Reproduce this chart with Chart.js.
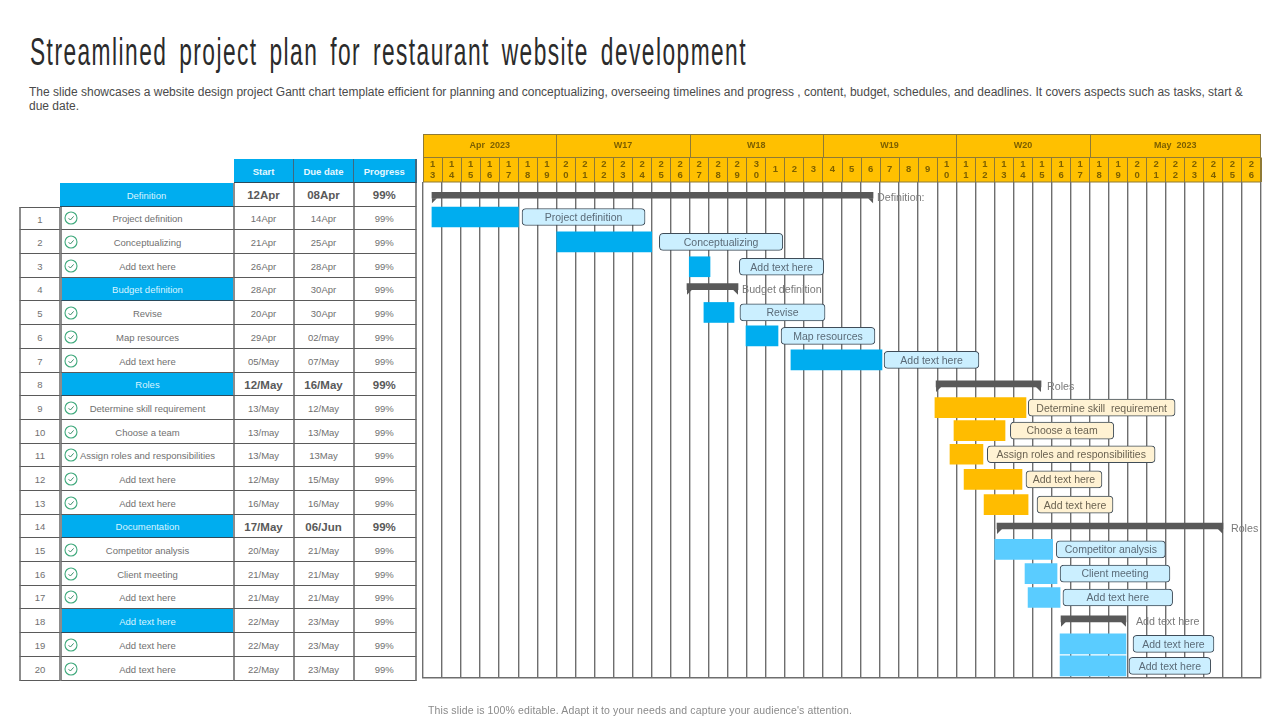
<!DOCTYPE html>
<html>
<head>
<meta charset="utf-8">
<script src="https://cdn.jsdelivr.net/npm/chart.js@4"></script>
<style>
html,body{margin:0;padding:0;background:#fff;width:1280px;height:720px;overflow:hidden;font-family:"Liberation Sans",Arial,sans-serif}
#title{position:absolute;left:30px;top:29px;font-family:"Liberation Sans",sans-serif;font-size:39px;line-height:46px;color:#2b2b2b;white-space:nowrap;transform-origin:0 0;letter-spacing:2.5px;word-spacing:7px}
.sub{position:absolute;left:29px;font-size:12px;line-height:14px;color:#4a4a4a;white-space:nowrap}
#foot{position:absolute;left:0;width:1280px;top:704px;text-align:center;font-size:10.5px;line-height:13px;color:#8a8a8a;letter-spacing:.13px}
#chart{position:absolute;left:0;top:0}
.c{position:absolute;box-sizing:border-box;display:flex;align-items:center;justify-content:center;color:#707070;font-size:9.5px;white-space:nowrap;padding-top:1px;border-right:2px solid #8c8c8c;border-bottom:1px solid #5a5a5a}
.c.l{border-left:2px solid #8c8c8c}
.c.t{border-top:1px solid #5a5a5a}
.c.blue{background:#00adef;color:#d8f4ff;border-bottom-color:#2a4a5c}
.c.bold{font-weight:bold;font-size:11.5px;color:#595959}
.c.head{font-size:9.5px;font-weight:bold;color:#e6f8ff;border-right-color:#3f6880}
svg.k{position:absolute;left:2px;top:50%;margin-top:-7px}
</style>
</head>
<body>
<div id="title">Streamlined project plan for restaurant website development</div>
<div class="sub" style="top:85px">The slide showcases a website design project Gantt chart template efficient for planning and conceptualizing, overseeing timelines and progress , content, budget, schedules, and deadlines. It covers aspects such as tasks, start &amp;</div>
<div class="sub" style="top:99px">due date.</div>
<div id="tbl"></div>
<canvas id="chart" width="1280" height="720"></canvas>
<div id="foot">This slide is 100% editable. Adapt it to your needs and capture your audience's attention.</div>
<script>
// ---------- table data ----------
const tableHeaders = ["Start", "Due date", "Progress"];
const taskNames = ["Definition","Project definition","Conceptualizing","Add text here","Budget definition","Revise","Map resources","Add text here","Roles","Determine skill  requirement","Choose a team","Assign roles and responsibilities","Add text here","Add text here","Documentation","Competitor analysis","Client meeting","Add text here","Add text here","Add text here","Add text here"];
const startDates = ["12Apr","14Apr","21Apr","26Apr","28Apr","20Apr","29Apr","05/May","12/May","13/May","13/may","13/May","12/May","16/May","17/May","20/May","21/May","21/May","22/May","22/May","22/May"];
const dueDates = ["08Apr","14Apr","25Apr","28Apr","30Apr","30Apr","02/may","07/May","16/May","12/May","13/May","13May","15/May","16/May","06/Jun","21/May","21/May","21/May","23/May","23/May","23/May"];
const progress = ["99%","99%","99%","99%","99%","99%","99%","99%","99%","99%","99%","99%","99%","99%","99%","99%","99%","99%","99%","99%","99%"];
const sectionRows = [0,4,8,14,18];
const boldRows = [0,8,14];

// ---------- gantt axis data ----------
const dayLabels = ["13","14","15","16","17","18","19","20","21","22","23","24","25","26","27","28","29","30","1","2","3","4","5","6","7","8","9","10","11","12","13","14","15","16","17","18","19","20","21","22","23","24","25","26"];
const periodLabels = ["Apr  2023","W17","W18","W19","W20","May  2023"];
const periodStarts = [13,20,27,34,41,48,57];

// ---------- gantt series (x in day columns, 13 = first column; lane = table row) ----------
const taskLanes  = [0.94,1.99,3.04,4.97,5.96,6.97,8.99,9.96,10.96,12.02,13.09,14.98,16.0,17.01,18.97,19.9];
const taskStarts = [13.47,20.02,26.98,27.75,29.96,32.32,39.88,40.88,40.67,41.41,42.46,43.02,44.61,44.77,46.45,46.45];
const taskEnds   = [18.01,25.01,28.07,29.33,31.64,37.1,44.66,43.56,42.4,44.45,44.77,46.06,46.29,46.45,49.91,49.91];
const taskPhases = [0,0,0,0,0,0,1,1,1,1,1,2,2,2,2,2];

const calloutStarts = [18.2,25.41,29.61,29.64,31.8,37.21,44.78,43.84,42.63,44.66,45.24,46.25,46.45,46.6,50.28,50.07];
const calloutEnds   = [24.66,31.89,34.04,34.11,36.73,42.19,52.49,49.27,51.44,48.65,49.23,51.98,52.22,52.36,54.53,54.36];
const calloutLabels = ["Project definition","Conceptualizing","Add text here","Revise","Map resources","Add text here","Determine skill  requirement","Choose a team","Assign roles and responsibilities","Add text here","Add text here","Competitor analysis","Client meeting","Add text here","Add text here","Add text here"];

const summaryLanes  = [0.02,3.88,7.99,13.99,17.91];
const summaryStarts = [13.47,26.86,39.94,43.14,46.5];
const summaryEnds   = [36.63,29.54,45.45,55.0,49.91];
const summaryLabels = ["Definition:","Budget definition","Roles","Roles","Add text here"];

// ---------- styling ----------
const phaseFill = ["#00adef","#ffbc00","#5accff"];
const calloutFill = ["#cbefff","#fff2d3","#cbefff"];
const calloutInk = ["#5b6b78","#6b6352","#5b6b78"];
const FONT = '"Liberation Sans", Arial, sans-serif';

// ---------- title fit ----------
(function(){
  const t=document.getElementById('title');
  t.style.display='inline-block';
  const w=t.getBoundingClientRect().width;
  t.style.transform='scaleX('+(717/w)+')';
})();

// ---------- table (DOM) ----------
(function(){
  const host=document.getElementById('tbl');
  const colX=[19,60,234,294,354,415.5];
  const rowH=(680.5-183)/21, top0=183;
  const Y=r=>Math.round(top0+r*rowH);
  function cell(x0,x1,y0,y1,txt,cls){
    const d=document.createElement('div');
    d.className='c '+(cls||'');
    d.style.left=x0+'px';d.style.width=(x1-x0+1)+'px';d.style.top=y0+'px';d.style.height=(y1-y0)+'px';
    d.textContent=txt;host.appendChild(d);return d;
  }
  tableHeaders.forEach((h,i)=>cell(colX[i+2],colX[i+3],159,183,h,'blue head'));
  taskNames.forEach((name,r)=>{
    const y0=Y(r),y1=Y(r+1);
    if(r>0) cell(colX[0],colX[1],y0,y1,String(r),'l'+(r===1?' t':''));
    const sec=sectionRows.includes(r);
    const n=cell(colX[1],colX[2],y0,y1,name,(sec?'blue':'')+(r>0?' l':''));
    if(!sec){
      n.insertAdjacentHTML('beforeend','<svg class="k" width="14" height="14" viewBox="0 0 14 14"><circle cx="7" cy="7" r="6" fill="#fff" stroke="#3fa97c" stroke-width="1.1"/><path d="M4.6 7.2 L6.4 9 L9.6 5.4" fill="none" stroke="#3d8f6c" stroke-width="1"/></svg>');
    }
    const b=boldRows.includes(r)?'bold':'';
    cell(colX[2],colX[3],y0,y1,startDates[r],b);
    cell(colX[3],colX[4],y0,y1,dueDates[r],b);
    cell(colX[4],colX[5],y0,y1,progress[r],b);
  });
})();

// ---------- plugin: header band, summary caps, labels ----------
const ganttDecor = {
  id:'ganttDecor',
  beforeDraw(chart){
    const {ctx,chartArea:a}=chart, x=chart.scales.x;
    ctx.save();
    ctx.fillStyle='#ffc000';
    ctx.fillRect(a.left,134,a.right-a.left,a.top-134);
    ctx.strokeStyle='#8f7a35';ctx.lineWidth=1;
    ctx.strokeRect(a.left+.5,134.5,a.right-a.left-1,a.top-134.5);
    ctx.beginPath();ctx.moveTo(a.left,157.5);ctx.lineTo(a.right,157.5);ctx.stroke();
    ctx.font='bold 9px '+FONT;ctx.fillStyle='#7d6000';ctx.textAlign='center';ctx.textBaseline='middle';
    periodLabels.forEach((lab,i)=>{
      const l=x.getPixelForValue(periodStarts[i]),r=x.getPixelForValue(periodStarts[i+1]);
      if(i>0){ctx.beginPath();ctx.moveTo(Math.round(l)+.5,134);ctx.lineTo(Math.round(l)+.5,157.5);ctx.stroke();}
      ctx.fillText(lab,(l+r)/2,146);
    });
    ctx.restore();
  },
  afterDatasetsDraw(chart){
    const {ctx}=chart;
    ctx.save();
    // callout captions
    chart.getDatasetMeta(1).data.forEach((el,i)=>{
      const p=el.getProps(['x','y','base'],true);
      ctx.font='10.5px '+FONT;ctx.textAlign='center';ctx.textBaseline='middle';
      ctx.fillStyle=calloutInk[taskPhases[i]];
      ctx.fillText(calloutLabels[i],(p.x+p.base)/2,p.y+1);
    });
    // summary brackets and captions
    const gaps=[4,4,6,8,10];
    chart.getDatasetMeta(2).data.forEach((el,i)=>{
      const p=el.getProps(['x','y','base'],true);
      const b=p.y+3,d=5;
      ctx.fillStyle='#595959';
      ctx.beginPath();ctx.moveTo(p.base,b);ctx.lineTo(p.base+d,b);ctx.lineTo(p.base,b+d);ctx.closePath();ctx.fill();
      ctx.beginPath();ctx.moveTo(p.x,b);ctx.lineTo(p.x-d,b);ctx.lineTo(p.x,b+d);ctx.closePath();ctx.fill();
      ctx.font='10.7px '+FONT;ctx.textAlign='left';ctx.textBaseline='middle';
      ctx.fillStyle='#7a7a7a';
      ctx.fillText(summaryLabels[i],p.x+gaps[i],p.y+3);
    });
    ctx.restore();
  }
};

// ---------- chart ----------
new Chart(document.getElementById('chart'),{
  type:'bar',
  plugins:[ganttDecor],
  data:{datasets:[
    {label:'Tasks',barThickness:20,borderWidth:0,
     data:taskLanes.map((y,i)=>({x:[taskStarts[i],taskEnds[i]],y})),
     backgroundColor:taskPhases.map(p=>phaseFill[p])},
    {label:'Callouts',barThickness:17,borderWidth:1,borderRadius:4,borderSkipped:false,borderColor:'#3f4c58',
     data:taskLanes.map((y,i)=>({x:[calloutStarts[i],calloutEnds[i]],y})),
     backgroundColor:taskPhases.map(p=>calloutFill[p])},
    {label:'Summary',barThickness:6,borderWidth:0,backgroundColor:'#595959',
     data:summaryLanes.map((y,i)=>({x:[summaryStarts[i],summaryEnds[i]],y}))}
  ]},
  options:{
    indexAxis:'y',responsive:false,animation:false,events:[],
    devicePixelRatio:1,
    layout:{padding:{left:423,right:19,top:157.5,bottom:42}},
    datasets:{bar:{grouped:false}},
    plugins:{legend:{display:false},tooltip:{enabled:false},title:{display:false}},
    scales:{
      x:{type:'linear',position:'bottom',min:13,max:57,
         afterFit(s){s.height=0;},
         ticks:{display:false,stepSize:1,autoSkip:false,maxTicksLimit:60},
         grid:{color:'#6e6e6e',lineWidth:1.4,drawTicks:false},
         border:{display:true,color:'#6e6e6e',width:1.4}},
      xDays:{type:'category',axis:'x',position:'top',labels:dayLabels,offset:true,
         afterFit(s){s.height=24.5;},
         ticks:{autoSkip:false,maxRotation:0,minRotation:0,crossAlign:'center',padding:-18,color:'#7d6000',
                font:{family:FONT,size:9.5,weight:'bold',lineHeight:1.2},
                callback(v,i){const t=dayLabels[i];return t.length>1?t.split(''):t;}},
         grid:{display:true,offset:true,drawOnChartArea:false,drawTicks:true,tickLength:24.5,color:'#8f7a35',lineWidth:1},
         border:{display:false}},
      y:{type:'linear',reverse:true,min:-0.54,max:20.41,display:false,offset:false,grid:{offset:false}}
    }
  }
});
</script>
</body>
</html>
